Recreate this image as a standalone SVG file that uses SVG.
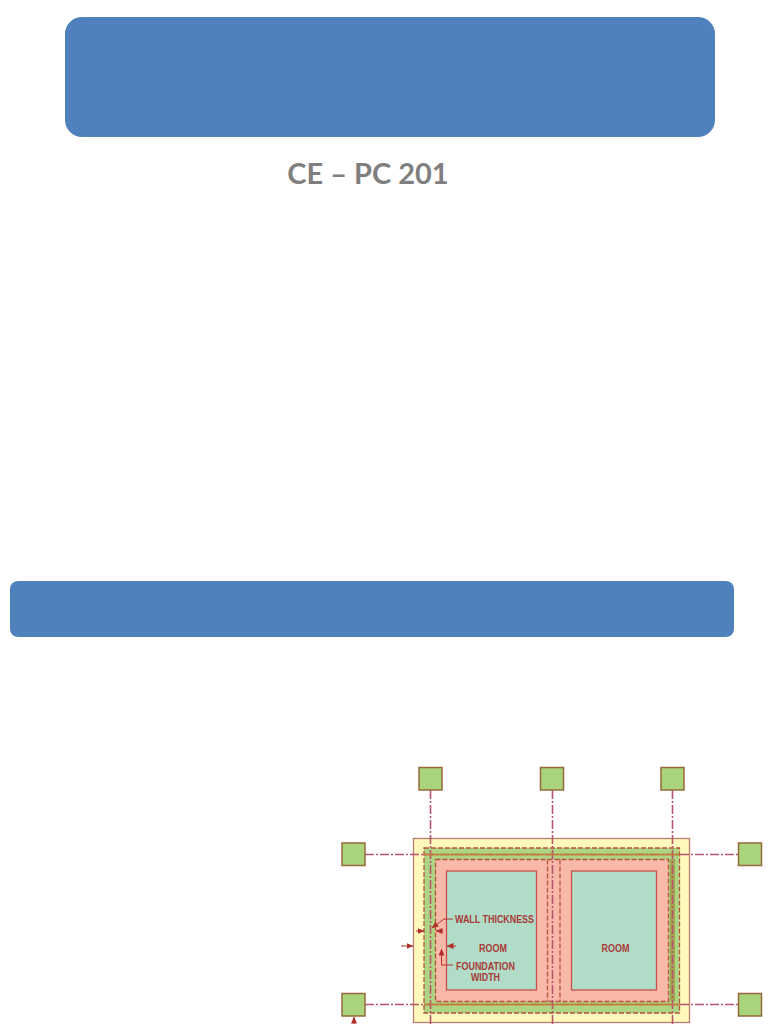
<svg xmlns="http://www.w3.org/2000/svg" width="768" height="1024" viewBox="0 0 768 1024">
<style>
.banner{fill:#4f81bd}
.foot{fill:#aad47c;stroke:#96693c;stroke-width:1.5}
.axis{fill:none;stroke:#b5566c;stroke-width:1.6;stroke-dasharray:9 2 2 2}
.band{fill:none;stroke:#c87a30;stroke-width:1.4}
.dash{fill:none;stroke:#b5533a;stroke-width:1.3;stroke-dasharray:5 2}
.room{fill:#b0dcc8;stroke:#c8504a;stroke-width:1.3}
.lbl{font-family:"Liberation Sans",Arial,sans-serif;font-weight:700;font-size:10px;fill:#a83a38;text-anchor:middle}
.lead{fill:none;stroke:#b0302c;stroke-width:1}
</style>
<defs>
<marker id="ah" markerWidth="7" markerHeight="6" refX="6.500" refY="3" orient="auto" markerUnits="userSpaceOnUse"><path d="M0 0L7 3L0 6Z" fill="#b0302c"/></marker>
</defs>
<rect width="768" height="1024" fill="#fff"/>
<g id="title-banner"><rect class="banner" x="65" y="17" width="650" height="120" rx="17"/></g>
<g id="course-code"><text x="368" y="184" font-family="Lato,'Liberation Sans',sans-serif" font-weight="700" font-size="29" fill="#7f7f7f" text-anchor="middle">CE – PC 201</text></g>
<g id="section-banner"><rect class="banner" x="10" y="581" width="724" height="56" rx="8"/></g>
<g id="plan">
<rect id="foundation" x="413.500" y="838.500" width="276" height="184" fill="#fff9be" stroke="#b87f70" stroke-width="1.300"/>
<rect id="wall-band" x="424" y="848" width="255.500" height="165" fill="#aed584"/>
<rect x="424" y="848" width="255.500" height="165" class="dash"/>
<rect x="670" y="859" width="5" height="142" fill="#a3a650"/>
<rect id="plinth" x="435.500" y="859.500" width="233" height="142" fill="#f9b9a9"/>
<rect x="435.500" y="859.500" width="233" height="142" class="dash"/>
<rect id="room-1" class="room" x="446.500" y="871" width="90" height="119"/>
<rect id="room-2" class="room" x="571.500" y="871" width="85" height="119"/>
<path class="dash" d="M547.500 859.500V1001.500M560 859.500V1001.500"/>
</g>
<g id="connectors">
<path class="axis" d="M430.500 790V1024M552.500 790V1024M672.500 790V1024"/>
<path class="axis" d="M365 854.500H738M365 1004.500H738"/>
<path class="band" d="M424 854.500H680M424 1004.500H680"/>
<path class="lead" d="M453 919H444L432 928" marker-end="url(#ah)"/>
<path class="lead" d="M453 965H441.500V949" marker-end="url(#ah)"/>
<path class="lead" d="M416 931H424" marker-end="url(#ah)"/>
<path class="lead" d="M443 931H436" marker-end="url(#ah)"/>
<path class="lead" d="M401 946H413" marker-end="url(#ah)"/>
<path class="lead" d="M456 946H447" marker-end="url(#ah)"/>
<path class="lead" d="M354 1024V1017" marker-end="url(#ah)"/>
</g>
<g id="footing-t1"><rect class="foot" x="419" y="767.500" width="23" height="22.500"/></g>
<g id="footing-t2"><rect class="foot" x="540.500" y="767.500" width="23" height="22.500"/></g>
<g id="footing-t3"><rect class="foot" x="661" y="767.500" width="23" height="22.500"/></g>
<g id="footing-l1"><rect class="foot" x="342" y="843" width="23" height="22.500"/></g>
<g id="footing-l2"><rect class="foot" x="342" y="993.500" width="23" height="22.500"/></g>
<g id="footing-r1"><rect class="foot" x="738.500" y="843" width="23" height="22.500"/></g>
<g id="footing-r2"><rect class="foot" x="738.500" y="993.500" width="23" height="22.500"/></g>
<g id="labels">
<text class="lbl" x="494.500" y="923" textLength="79" lengthAdjust="spacingAndGlyphs">WALL THICKNESS</text>
<text class="lbl" x="493" y="951.500" textLength="28" lengthAdjust="spacingAndGlyphs">ROOM</text>
<text class="lbl" x="615.500" y="951.500" textLength="28" lengthAdjust="spacingAndGlyphs">ROOM</text>
<text class="lbl" x="485.500" y="970" textLength="59" lengthAdjust="spacingAndGlyphs">FOUNDATION</text>
<text class="lbl" x="485.500" y="981" textLength="29" lengthAdjust="spacingAndGlyphs">WIDTH</text>
</g>
</svg>
